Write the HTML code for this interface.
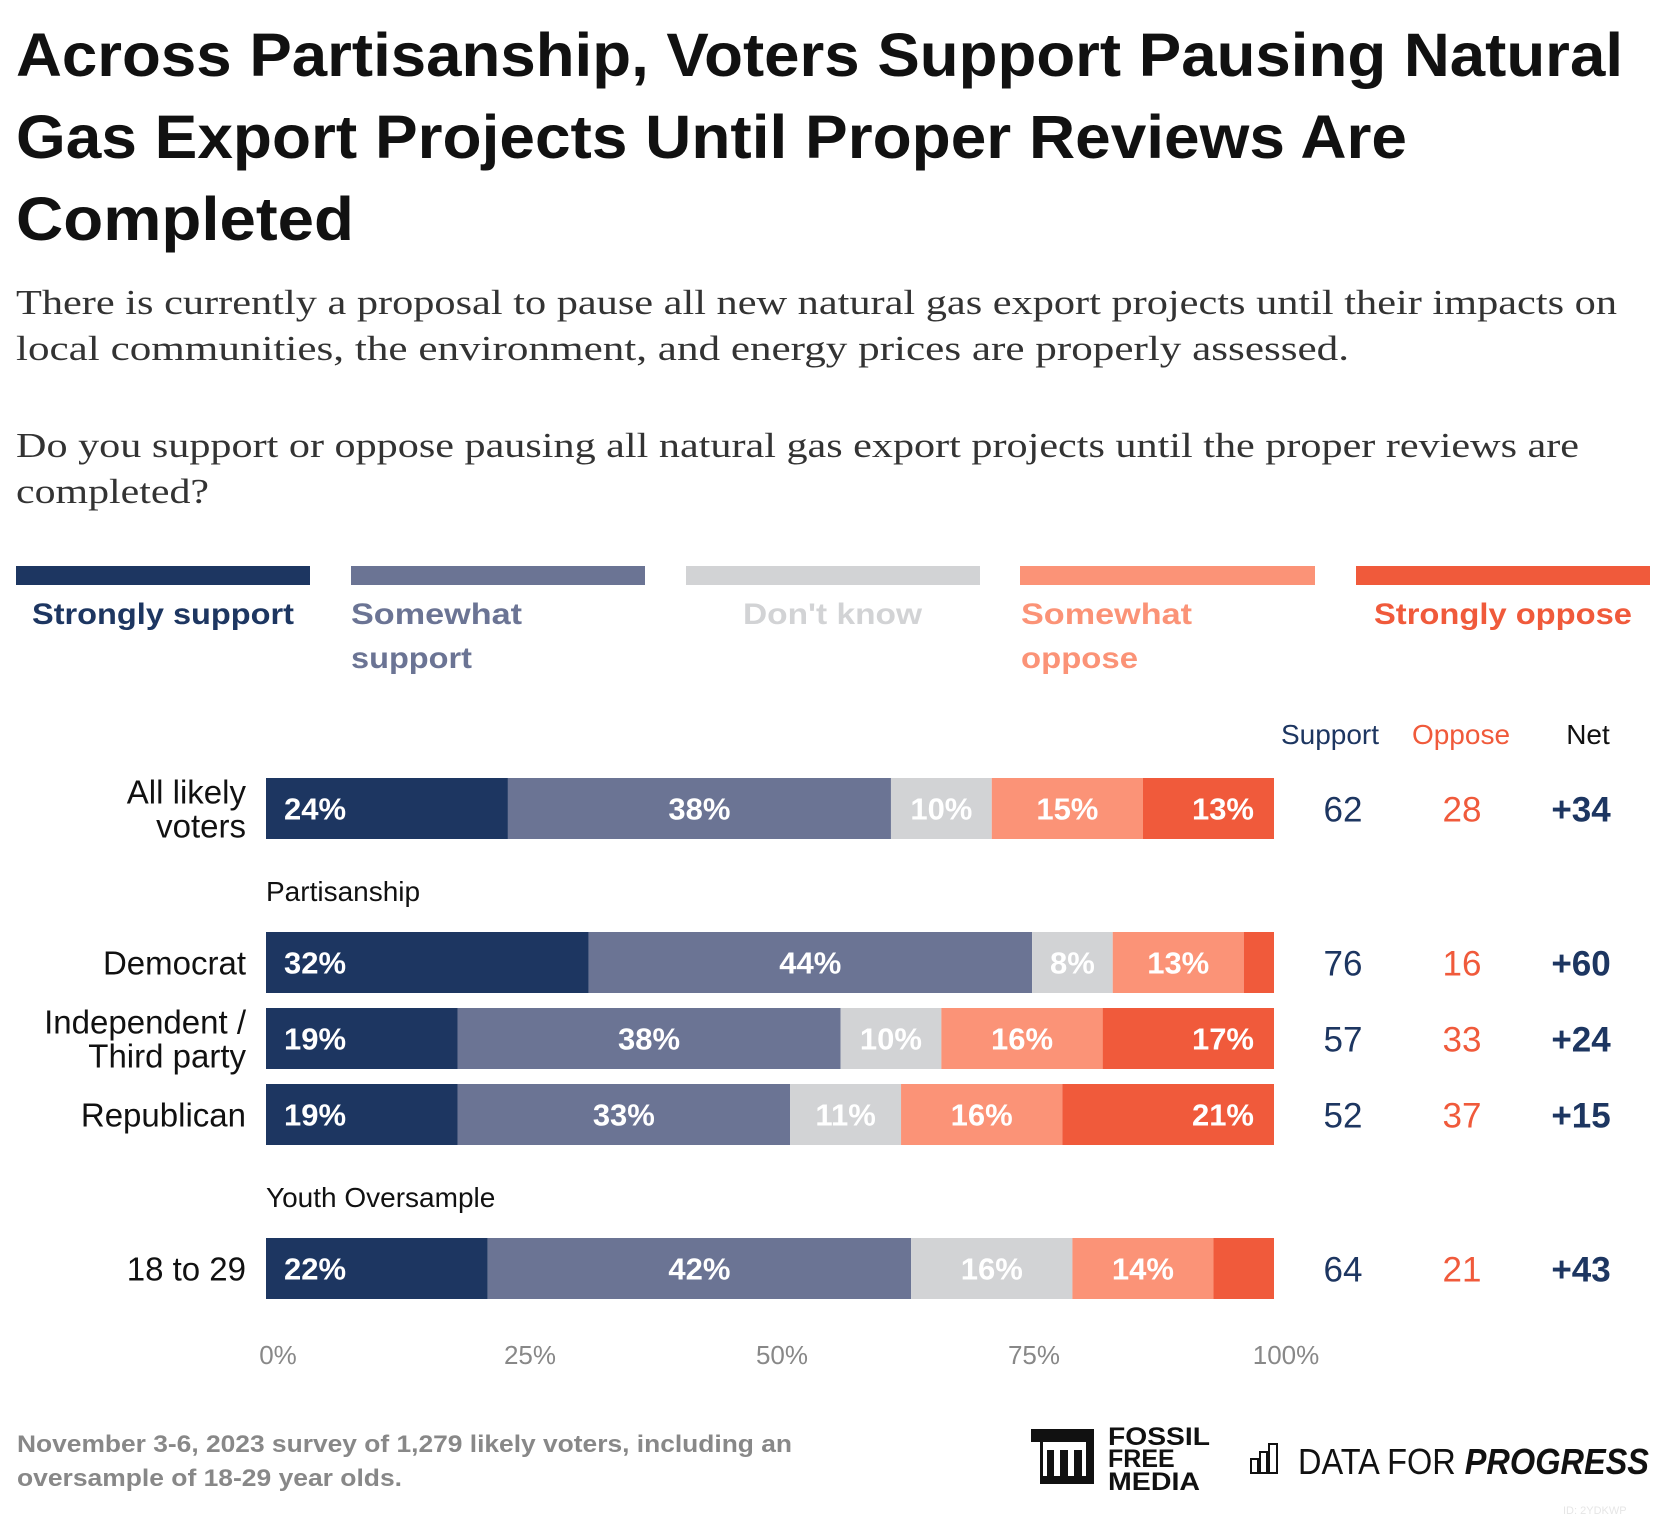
<!DOCTYPE html>
<html><head><meta charset="utf-8">
<style>
body{margin:0;background:#fff;}
svg{display:block;font-family:"Liberation Sans",sans-serif;}
</style></head>
<body>
<svg id="chart" width="1666" height="1520" viewBox="0 0 1666 1520" xmlns="http://www.w3.org/2000/svg">
<g font-weight="bold" font-size="61" fill="#111">
<text x="16" y="76" textLength="1607" lengthAdjust="spacingAndGlyphs">Across Partisanship, Voters Support Pausing Natural</text>
<text x="16" y="158" textLength="1391" lengthAdjust="spacingAndGlyphs">Gas Export Projects Until Proper Reviews Are</text>
<text x="16" y="240" textLength="338" lengthAdjust="spacingAndGlyphs">Completed</text>
</g>
<g font-family="Liberation Serif, serif" font-size="35" fill="#333">
<text x="16" y="314" textLength="1601" lengthAdjust="spacingAndGlyphs">There is currently a proposal to pause all new natural gas export projects until their impacts on</text>
<text x="16" y="360" textLength="1333" lengthAdjust="spacingAndGlyphs">local communities, the environment, and energy prices are properly assessed.</text>
<text x="16" y="457" textLength="1563" lengthAdjust="spacingAndGlyphs">Do you support or oppose pausing all natural gas export projects until the proper reviews are</text>
<text x="16" y="503" textLength="193" lengthAdjust="spacingAndGlyphs">completed?</text>
</g>
<g font-weight="bold" font-size="30">
<rect x="16" y="566" width="294" height="19" fill="#1d3661"/>
<text x="32" y="624" fill="#1d3661" textLength="262" lengthAdjust="spacingAndGlyphs">Strongly support</text>
<rect x="351" y="566" width="294" height="19" fill="#6b7494"/>
<g fill="#6b7494"><text x="351" y="624" textLength="171" lengthAdjust="spacingAndGlyphs">Somewhat</text><text x="351" y="668" textLength="121" lengthAdjust="spacingAndGlyphs">support</text></g>
<rect x="686" y="566" width="294" height="19" fill="#d2d3d5"/>
<text x="743" y="624" fill="#d2d3d5" textLength="179" lengthAdjust="spacingAndGlyphs">Don't know</text>
<rect x="1020" y="566" width="295" height="19" fill="#fb9377"/>
<g fill="#fb9377"><text x="1021" y="624" textLength="171" lengthAdjust="spacingAndGlyphs">Somewhat</text><text x="1021" y="668" textLength="117" lengthAdjust="spacingAndGlyphs">oppose</text></g>
<rect x="1356" y="566" width="294" height="19" fill="#f05a3b"/>
<text x="1374" y="624" fill="#f05a3b" textLength="258" lengthAdjust="spacingAndGlyphs">Strongly oppose</text>
</g>
<g font-size="28" text-anchor="middle">
<text x="1330" y="744" fill="#1d3661">Support</text>
<text x="1461" y="744" fill="#f05a3b">Oppose</text>
<text x="1588" y="744" fill="#111">Net</text>
</g>
<g font-size="28" fill="#111">
<text x="266" y="901">Partisanship</text>
<text x="266" y="1207">Youth Oversample</text>
</g>
<g id="bars"></g>
<g id="axis" font-size="26" fill="#888" text-anchor="middle"></g>
<g font-weight="bold" font-size="24" fill="#888">
<text x="17" y="1452" textLength="775" lengthAdjust="spacingAndGlyphs">November 3-6, 2023 survey of 1,279 likely voters, including an</text>
<text x="17" y="1486" textLength="385" lengthAdjust="spacingAndGlyphs">oversample of 18-29 year olds.</text>
</g>
<g>
<path d="M1031 1429 H1094 V1484 H1040 V1442 H1031 Z" fill="#111"/>
<path d="M1043 1442 H1086 V1476 H1082 V1450 H1074 V1476 H1068 V1450 H1060 V1476 H1054 V1450 H1047 V1476 H1043 Z" fill="#fff"/>
<g font-weight="bold" font-size="25" fill="#111"><text x="1108" y="1445" textLength="102" lengthAdjust="spacingAndGlyphs">FOSSIL</text><text x="1108" y="1467">FREE</text><text x="1108" y="1490" textLength="92" lengthAdjust="spacingAndGlyphs">MEDIA</text></g>
</g>
<g>
<g fill="none" stroke="#111" stroke-width="2"><rect x="1251" y="1459" width="7" height="14"/><rect x="1260" y="1452" width="7" height="21"/><rect x="1269" y="1444" width="8" height="29"/></g>
<text x="1298" y="1474" font-size="36" fill="#111" textLength="351" lengthAdjust="spacingAndGlyphs">DATA FOR <tspan font-weight="bold" font-style="italic">PROGRESS</tspan></text>
<text x="1563" y="1514" font-size="11" fill="#e6e6e6">ID: 2YDKWP</text>
</g>
</svg>
<script>
const categories=["All likely voters","Democrat","Independent / Third party","Republican","18 to 29"];
const stronglySupport=[24,32,19,19,22];
const somewhatSupport=[38,44,38,33,42];
const dontKnow=[10,8,10,11,16];
const somewhatOppose=[15,13,16,16,14];
const stronglyOppose=[13,3,17,21,6];
const supportTotals=[62,76,57,52,64];
const opposeTotals=[28,16,33,37,21];
const netValues=["+34","+60","+24","+15","+43"];
const tickValues=[0,25,50,75,100];
const tickLabels=["0%","25%","50%","75%","100%"];

const NS="http://www.w3.org/2000/svg";
const X0=266,X1=1274;
const rowTops=[778,932,1008,1084,1238];
const BH=61;
const colors=["#1d3661","#6b7494","#d2d3d5","#fb9377","#f05a3b"];
const segNames=["strongly-support","somewhat-support","dont-know","somewhat-oppose","strongly-oppose"];
function xs(v){return X0+(X1-X0)*v/100;}
function mk(tag,attrs,parent){const e=document.createElementNS(NS,tag);for(const k in attrs)e.setAttribute(k,attrs[k]);parent.appendChild(e);return e;}
const bars=document.getElementById('bars');
const series=[stronglySupport,somewhatSupport,dontKnow,somewhatOppose,stronglyOppose];
const catLines=[["All likely","voters"],["Democrat"],["Independent /","Third party"],["Republican"],["18 to 29"]];
categories.forEach((c,i)=>{
  const top=rowTops[i];
  const total=series.reduce((s,a)=>s+a[i],0);
  let acc=0;
  const lab=mk('text',{x:246,'text-anchor':'end','font-size':33,fill:'#111'},bars);
  
  
  const lines=catLines[i];
  lines.forEach((l,j)=>{const t=mk('tspan',{x:246,y:top+BH/2+12+(j-(lines.length-1)/2)*34},lab);t.textContent=l;});
  series.forEach((arr,s)=>{
    const v=arr[i]*100/total;
    const xa=xs(acc),xb=xs(acc+v);
    const r=mk('rect',{x:xa,y:top,width:xb-xa,height:BH,fill:colors[s]},bars);
    
    
    if(arr[i]>=7){
      let tx,anchor;
      if(s===0){tx=xa+18;anchor='start';}
      else if(s===4){tx=xb-20;anchor='end';}
      else{tx=(xa+xb)/2;anchor='middle';}
      const t=mk('text',{x:tx,y:top+BH/2+11,'text-anchor':anchor,'font-size':31,'font-weight':'bold',fill:'#fff'},bars);
      
      
      t.textContent=arr[i]+'%';
    }
    acc+=v;
  });
  const cy=top+BH/2+13;
  const a=mk('text',{x:1343,y:cy,'text-anchor':'middle','font-size':35,fill:'#1d3661'},bars);
  
  
  a.textContent=supportTotals[i];
  const b=mk('text',{x:1462,y:cy,'text-anchor':'middle','font-size':35,fill:'#f05a3b'},bars);
  
  
  b.textContent=opposeTotals[i];
  const n=mk('text',{x:1581,y:cy,'text-anchor':'middle','font-size':35,'font-weight':'bold',fill:'#1d3661'},bars);
  
  
  n.textContent=netValues[i];
});
const axis=document.getElementById('axis');
tickValues.forEach((v,i)=>{
  const t=mk('text',{x:xs(v)+12,y:1364},axis);
  
  
  t.textContent=tickLabels[i];
});
</script>
</body></html>
